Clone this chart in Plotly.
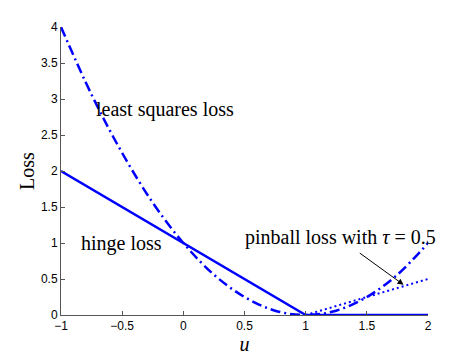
import plotly.graph_objects as go

u_hinge = [-1, 1, 2]
loss_hinge = [2, 0, 0]

u_ls = [-1, -0.75, -0.5, -0.25, 0, 0.25, 0.5, 0.75, 1, 1.25, 1.5, 1.75, 2]
loss_ls = [4, 3.06, 2.25, 1.56, 1, 0.56, 0.25, 0.06, 0, 0.06, 0.25, 0.56, 1]

u_pin = [1, 2]
loss_pin = [0, 0.5]

x_ticks = [-1, -0.5, 0, 0.5, 1, 1.5, 2]
x_ticklabels = ["\u22121", "\u22120.5", "0", "0.5", "1", "1.5", "2"]
y_ticks = [0, 0.5, 1, 1.5, 2, 2.5, 3, 3.5, 4]
y_ticklabels = ["0", "0.5", "1", "1.5", "2", "2.5", "3", "3.5", "4"]

blue = "rgb(0,0,255)"
fig = go.Figure()
fig.add_trace(go.Scatter(x=u_pin, y=loss_pin, mode="lines",
                         line=dict(color=blue, width=2, dash="2px,3px")))
fig.add_trace(go.Scatter(x=u_ls, y=loss_ls, mode="lines", line_shape="spline",
                         line=dict(color=blue, width=2.5, dash="10px,4px,2px,4px")))
fig.add_trace(go.Scatter(x=u_hinge, y=loss_hinge, mode="lines",
                         line=dict(color=blue, width=2.5)))

serif = "Liberation Serif, Times New Roman, serif"
fig.add_annotation(x=-0.73, y=2.85, text="least squares loss", showarrow=False,
                   xanchor="left", yanchor="middle", font=dict(family=serif, size=20, color="black"))
fig.add_annotation(x=-0.85, y=1.0, text="hinge loss", showarrow=False,
                   xanchor="left", yanchor="middle", font=dict(family=serif, size=20, color="black"))
fig.add_annotation(x=0.49, y=1.07, text="pinball loss with <i>\u03c4</i> = 0.5", showarrow=False,
                   xanchor="left", yanchor="middle", font=dict(family=serif, size=20, color="black"))
fig.add_annotation(x=1.80, y=0.42, ax=1.43, ay=0.875, axref="x", ayref="y",
                   text="", showarrow=True, arrowhead=2, arrowsize=1.2, arrowwidth=1, arrowcolor="black")

fig.update_layout(
    width=474, height=355, margin=dict(l=61, r=46, t=27, b=40, autoexpand=False),
    plot_bgcolor="white", paper_bgcolor="white", showlegend=False,
    xaxis=dict(range=[-1, 2], tickvals=x_ticks, ticktext=x_ticklabels, ticks="inside", ticklen=4,
               tickcolor="#555", showline=True, linecolor="#555", linewidth=1, showgrid=False, zeroline=False,
               automargin=False,
               tickfont=dict(family="Liberation Sans, Arial", size=12, color="black"),
               title=dict(text="<i>u</i>", font=dict(family=serif, size=20, color="black"), standoff=0)),
    yaxis=dict(range=[0, 4], tickvals=y_ticks, ticktext=y_ticklabels, ticks="inside", ticklen=4,
               tickcolor="#555", showline=True, linecolor="#555", linewidth=1, showgrid=False, zeroline=False,
               automargin=False,
               tickfont=dict(family="Liberation Sans, Arial", size=12, color="black"),
               title=dict(text="Loss", font=dict(family=serif, size=20, color="black"), standoff=0)),
)
fig.write_html("out.html")
